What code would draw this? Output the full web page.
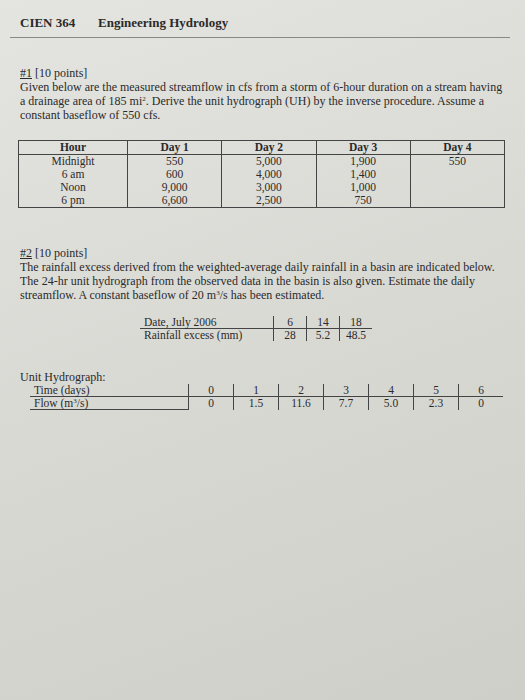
<!DOCTYPE html>
<html><head><meta charset="utf-8">
<script src="https://cdn.jsdelivr.net/npm/chart.js@4"></script>
<style>
body{margin:0;width:525px;height:700px;overflow:hidden;font-family:"Liberation Serif",serif;color:#2a2a2a;
 background:linear-gradient(160deg,#e4e4e0 0%,#d9d9d4 50%,#cfcfca 100%);}
.a{position:absolute;font-size:12px;line-height:14px}
sup{font-size:7px;line-height:0;vertical-align:4px}
table{border-collapse:collapse;position:absolute;font-size:11.5px;line-height:12px}
td{padding:0 4px;text-align:center}
#t1 td{border-left:1px solid #444;line-height:13px}
#t1 tr:first-child td{border-bottom:1px solid #444;font-weight:bold}
#t1{border:1px solid #444}
</style></head><body>
<div class="a" style="left:20px;top:16px;font-size:13px;font-weight:bold">CIEN 364 &nbsp;&nbsp;&nbsp;&nbsp;&nbsp; Engineering Hydrology</div>
<div style="position:absolute;left:10px;top:37px;width:500px;border-top:1px solid #888"></div>
<div class="a" style="left:20px;top:66px;width:490px"><u>#1</u> [10 points]<br>Given below are the measured streamflow in cfs from a storm of 6-hour duration on a stream having a drainage area of 185 mi<sup>2</sup>. Derive the unit hydrograph (UH) by the inverse procedure. Assume a constant baseflow of 550 cfs.</div>
<table id="t1" style="left:18px;top:140px;width:487px"></table>
<div class="a" style="left:20px;top:246px;width:495px"><u>#2</u> [10 points]<br>The rainfall excess derived from the weighted-average daily rainfall in a basin are indicated below. The 24-hr unit hydrograph from the observed data in the basin is also given. Estimate the daily streamflow. A constant baseflow of 20 m<sup>3</sup>/s has been estimated.</div>
<table id="t2" style="left:140px;top:316px"></table>
<div class="a" style="left:20px;top:370px">Unit Hydrograph:</div>
<table id="t3" style="left:30px;top:384px"></table>
<canvas id="c" width="1" height="1" style="display:none"></canvas>
<script>
const hours = ['Midnight','6 am','Noon','6 pm'];
const days = ['Day 1','Day 2','Day 3','Day 4'];
const day1 = ['550','600','9,000','6,600'];
const day2 = ['5,000','4,000','3,000','2,500'];
const day3 = ['1,900','1,400','1,000','750'];
const day4 = ['550','','',''];
const rainDates = ['6','14','18'];
const rainExcess = ['28','5.2','48.5'];
const uhTime = ['0','1','2','3','4','5','6'];
const uhFlow = ['0','1.5','11.6','7.7','5.0','2.3','0'];

const t1 = document.getElementById('t1');
let h = '<tr><td style="width:100px">Hour</td>' + days.map(d => `<td>${d}</td>`).join('') + '</tr>';
hours.forEach((hr, i) => {
  h += `<tr><td>${hr}</td><td>${day1[i]}</td><td>${day2[i]}</td><td>${day3[i]}</td><td>${day4[i]}</td></tr>`;
});
t1.innerHTML = h;

const t2 = document.getElementById('t2');
t2.innerHTML =
  '<tr><td style="text-align:left;width:125px;border-bottom:1px solid #444">Date, July 2006</td>' +
  rainDates.map(d => `<td style="border-left:1px solid #444;border-bottom:1px solid #444;width:24px">${d}</td>`).join('') + '</tr>' +
  '<tr><td style="text-align:left">Rainfall excess (mm)</td>' +
  rainExcess.map(d => `<td style="border-left:1px solid #444">${d}</td>`).join('') + '</tr>';

const t3 = document.getElementById('t3');
t3.innerHTML =
  '<tr><td style="text-align:left;width:150px;border-bottom:1px solid #444">Time (days)</td>' +
  uhTime.map(d => `<td style="border-left:1px solid #444;border-bottom:1px solid #444;width:36px">${d}</td>`).join('') + '</tr>' +
  '<tr><td style="text-align:left;border-bottom:1px solid #444">Flow (m<sup>3</sup>/s)</td>' +
  uhFlow.map(d => `<td style="border-left:1px solid #444">${d}</td>`).join('') + '</tr>';
</script>
</body></html>
